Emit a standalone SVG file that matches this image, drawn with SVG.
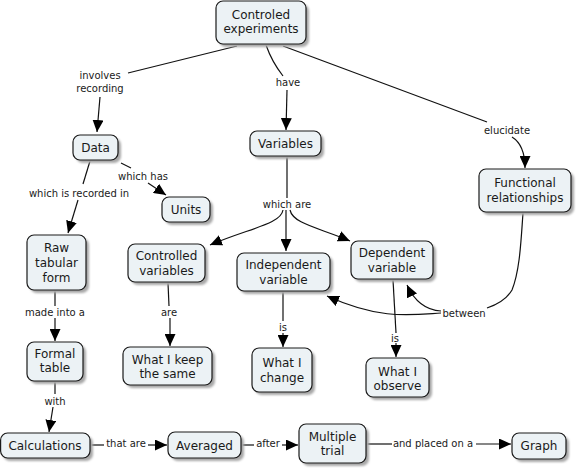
<svg xmlns="http://www.w3.org/2000/svg" width="577" height="470" viewBox="0 0 577 470">
<style>
.s{fill:#a8a8a8;filter:url(#blur)}
.b{fill:#ecf2f5;stroke:#1a1a1a;stroke-width:1.2}
.t{font-family:"DejaVu Sans",Verdana,sans-serif;font-size:12px;fill:#1a1a1a;text-anchor:middle}
.l{font-family:"DejaVu Sans",Verdana,sans-serif;font-size:10px;fill:#1a1a1a;text-anchor:middle}
.c{fill:none;stroke:#111;stroke-width:1.2}
.a{marker-end:url(#ah)}
</style>
<defs>
<filter id="blur" x="-10%" y="-10%" width="120%" height="120%"><feGaussianBlur stdDeviation="1"/></filter>
<marker id="ah" markerUnits="userSpaceOnUse" markerWidth="12" markerHeight="11" refX="12" refY="5.5" orient="auto">
<path d="M0,0 L12,5.5 L0,11 z" fill="#000"/>
</marker>
</defs>
<rect width="577" height="470" fill="#fff"/>
<g id="connectors">
<path class="c" d="M237,46 Q180,60 128,73"/>
<path class="c a" d="M100,97 L97,132"/>
<path class="c" d="M266,45 Q272,62 283,76"/>
<path class="c a" d="M287,90 L286,130"/>
<path class="c" d="M283,46 L487,122"/>
<path class="c a" d="M512,137 Q525,145 525,168"/>
<path class="c" d="M121,163 L131,168"/>
<path class="c a" d="M148,183 L166,195"/>
<path class="c" d="M90,161 L83,184"/>
<path class="c a" d="M78,200 L68,233"/>
<path class="c" d="M287,157 L287,198"/>
<path class="c a" d="M283,210 C281,224 250,228 210,245"/>
<path class="c a" d="M286,210 L286,251"/>
<path class="c a" d="M290,210 C293,224 320,228 350,241"/>
<path class="c" d="M168,283 L169,306"/>
<path class="c a" d="M170,318 L170,346"/>
<path class="c" d="M283,292 L283,321"/>
<path class="c a" d="M283,333 L283,347"/>
<path class="c" d="M393,280 L396,333"/>
<path class="c a" d="M396,343 L396,357"/>
<path class="c" d="M523,213 C521,240 520,270 512,290 Q505,302 487,308"/>
<path class="c a" d="M441,311 C423,310 413,298 407,285"/>
<path class="c a" d="M441,313 C410,315 380,320 327,296"/>
<path class="c" d="M55,291 L55,306"/>
<path class="c a" d="M55,318 L55,341"/>
<path class="c" d="M55,382 L55,394"/>
<path class="c a" d="M53,407 L49,432"/>
<path class="c" d="M91,445 L104,445"/>
<path class="c a" d="M148,445 L167,445"/>
<path class="c" d="M242,445 L254,445"/>
<path class="c a" d="M282,445 L298,445"/>
<path class="c" d="M367,444 L392,444"/>
<path class="c a" d="M476,444 L511,444"/>
<text class="l" x="100" y="78.5">involves</text>
<text class="l" x="100" y="91.5">recording</text>
<text class="l" x="288" y="85.5">have</text>
<text class="l" x="507" y="133.5">elucidate</text>
<text class="l" x="143" y="179.5">which has</text>
<text class="l" x="79" y="196.5">which is recorded in</text>
<text class="l" x="287" y="207.5">which are</text>
<text class="l" x="169" y="315.5">are</text>
<text class="l" x="283" y="330.5">is</text>
<text class="l" x="395" y="341.5">is</text>
<text class="l" x="464" y="316.5">between</text>
<text class="l" x="55" y="315.5">made into a</text>
<text class="l" x="55" y="404.5">with</text>
<text class="l" x="126" y="446.5">that are</text>
<text class="l" x="268" y="446.5">after</text>
<text class="l" x="433" y="446.5">and placed on a</text>
</g>
<g id="n-controled">
<rect class="s" x="219" y="4" width="90" height="43" rx="7"/>
<rect class="b" x="216" y="1" width="90" height="43" rx="7"/>
<text class="t" x="261" y="18.5">Controled</text>
<text class="t" x="261" y="32.5">experiments</text>
</g>
<g id="n-data">
<rect class="s" x="76" y="138" width="45" height="25" rx="7"/>
<rect class="b" x="73" y="135" width="45" height="25" rx="7"/>
<text class="t" x="95.5" y="152">Data</text>
</g>
<g id="n-units">
<rect class="s" x="165" y="200" width="48" height="25" rx="7"/>
<rect class="b" x="162" y="197" width="48" height="25" rx="7"/>
<text class="t" x="186" y="214">Units</text>
</g>
<g id="n-variables">
<rect class="s" x="253" y="134" width="71" height="25" rx="7"/>
<rect class="b" x="250" y="131" width="71" height="25" rx="7"/>
<text class="t" x="285.5" y="148">Variables</text>
</g>
<g id="n-functional">
<rect class="s" x="482" y="172" width="92" height="43" rx="7"/>
<rect class="b" x="479" y="169" width="92" height="43" rx="7"/>
<text class="t" x="525" y="187">Functional</text>
<text class="t" x="525" y="201.5">relationships</text>
</g>
<g id="n-raw">
<rect class="s" x="30" y="238" width="59" height="55" rx="7"/>
<rect class="b" x="27" y="235" width="59" height="55" rx="7"/>
<text class="t" x="56.5" y="252">Raw</text>
<text class="t" x="56.5" y="267">tabular</text>
<text class="t" x="56.5" y="281.5">form</text>
</g>
<g id="n-controlled">
<rect class="s" x="131" y="247" width="77" height="38" rx="7"/>
<rect class="b" x="128" y="244" width="77" height="38" rx="7"/>
<text class="t" x="166.5" y="260">Controlled</text>
<text class="t" x="166.5" y="275">variables</text>
</g>
<g id="n-independent">
<rect class="s" x="240" y="256" width="93" height="38" rx="7"/>
<rect class="b" x="237" y="253" width="93" height="38" rx="7"/>
<text class="t" x="283.5" y="269">Independent</text>
<text class="t" x="283.5" y="284">variable</text>
</g>
<g id="n-dependent">
<rect class="s" x="354" y="244" width="82" height="38" rx="7"/>
<rect class="b" x="351" y="241" width="82" height="38" rx="7"/>
<text class="t" x="392" y="257">Dependent</text>
<text class="t" x="392" y="271.5">variable</text>
</g>
<g id="n-keep">
<rect class="s" x="126" y="350" width="89" height="38" rx="7"/>
<rect class="b" x="123" y="347" width="89" height="38" rx="7"/>
<text class="t" x="167.5" y="364">What I keep</text>
<text class="t" x="167.5" y="378">the same</text>
</g>
<g id="n-change">
<rect class="s" x="255" y="351" width="60" height="44" rx="7"/>
<rect class="b" x="252" y="348" width="60" height="44" rx="7"/>
<text class="t" x="282" y="367">What I</text>
<text class="t" x="282" y="382">change</text>
</g>
<g id="n-observe">
<rect class="s" x="369" y="361" width="63" height="39" rx="7"/>
<rect class="b" x="366" y="358" width="63" height="39" rx="7"/>
<text class="t" x="397.5" y="376">What I</text>
<text class="t" x="397.5" y="390">observe</text>
</g>
<g id="n-formal">
<rect class="s" x="30" y="345" width="56" height="39" rx="7"/>
<rect class="b" x="27" y="342" width="56" height="39" rx="7"/>
<text class="t" x="55" y="358">Formal</text>
<text class="t" x="55" y="372">table</text>
</g>
<g id="n-calculations">
<rect class="s" x="3" y="436" width="90" height="25" rx="7"/>
<rect class="b" x="0.6" y="433" width="89.4" height="25" rx="7"/>
<text class="t" x="45" y="449.5">Calculations</text>
</g>
<g id="n-averaged">
<rect class="s" x="171" y="435" width="73" height="26" rx="7"/>
<rect class="b" x="168" y="432" width="73" height="26" rx="7"/>
<text class="t" x="204.5" y="449.5">Averaged</text>
</g>
<g id="n-multiple">
<rect class="s" x="302" y="427" width="67" height="39" rx="7"/>
<rect class="b" x="299" y="424" width="67" height="39" rx="7"/>
<text class="t" x="332.5" y="441">Multiple</text>
<text class="t" x="332.5" y="455">trial</text>
</g>
<g id="n-graph">
<rect class="s" x="515" y="436" width="54" height="26" rx="7"/>
<rect class="b" x="512" y="433" width="54" height="26" rx="7"/>
<text class="t" x="539" y="450">Graph</text>
</g>
</svg>
